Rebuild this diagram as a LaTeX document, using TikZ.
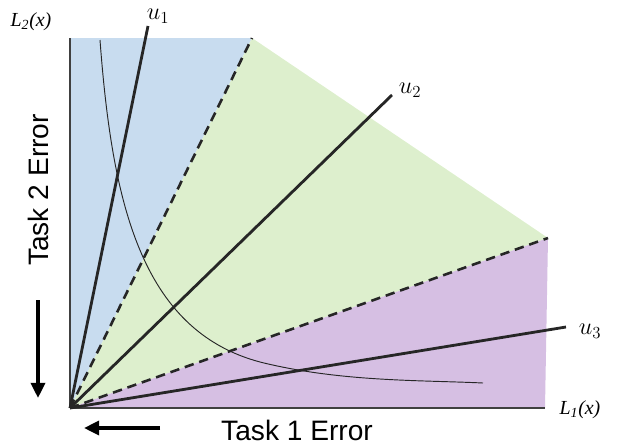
\documentclass[tikz,border=0pt]{standalone}
\usepackage{fontspec}
\newfontfamily\taskfont{Liberation Sans}
\newfontfamily\lfont{Liberation Serif}
\usetikzlibrary{arrows.meta}
\definecolor{blueregion}{HTML}{C8DCEF}
\definecolor{greenregion}{HTML}{DDEFCD}
\definecolor{purpleregion}{HTML}{D6BFE3}
\begin{document}
\begin{tikzpicture}
        [x=0.03cm, y=-0.03cm,
        region/.style={draw=none},
        boundary/.style={line width=2.2pt, dashed, dash pattern=on 8pt off 5pt, black!85},
        ray/.style={line width=2.4pt, black!85},
        axis/.style={line width=1.4pt, black!75},
        arrowline/.style={line width=3pt, -{Triangle[length=13pt,width=12pt]}},
        tasklabel/.style={font=\taskfont\fontsize{24}{24}\selectfont},
        losslabel/.style={font=\lfont\itshape\fontsize{17}{17}\selectfont},
        raylabel/.style={font=\fontsize{20}{20}\selectfont}]
        \useasboundingbox (0,0) rectangle (623,447);

        \coordinate (o) at (70,408);
        \coordinate (ytop) at (70,38);
        \coordinate (b1) at (252,38);
        \coordinate (b2) at (548,238);
        \coordinate (xend) at (545,408);

        % shaded regions
        \fill[region, fill=blueregion] (o) -- (ytop) -- (b1) -- cycle;
        \fill[region, fill=greenregion] (o) -- (b1) -- (b2) -- cycle;
        \fill[region, fill=purpleregion] (o) -- (b2) -- (xend) -- cycle;

        % axes
        \draw[axis] (o) -- (ytop);
        \draw[axis] (o) -- (xend);

        % dashed boundaries
        \draw[boundary] (o) -- (b1);
        \draw[boundary] (o) -- (b2);

        % preference rays
        \node[raylabel] (u1) at (158,16) {$u_1$};
        \node[raylabel] (u2) at (410,90) {$u_2$};
        \node[raylabel] (u3) at (590,331) {$u_3$};
        \coordinate (r1) at (148,26);
        \coordinate (r2) at (392,95);
        \coordinate (r3) at (566,327);
        \draw[ray] (o) -- (r1);
        \draw[ray] (o) -- (r2);
        \draw[ray] (o) -- (r3);

        % pareto front
        \draw[black!85, thick] (100,40) .. controls (112,200) and (140,330) .. (260,362)
                .. controls (340,382) and (420,380) .. (483,383);

        % labels
        \node[losslabel] (l2) at (31,22) {L\textsubscript{2}(x)};
        \node[losslabel] (l1) at (580,410) {L\textsubscript{1}(x)};
        \node[tasklabel, rotate=90] (t2) at (38,190) {Task 2 Error};
        \node[tasklabel] (t1) at (297,430) {Task 1 Error};
        \coordinate (a2s) at (38,300);
        \coordinate (a2e) at (38,398);
        \coordinate (a1s) at (160,428);
        \coordinate (a1e) at (84,428);
        \draw[arrowline] (a2s) -- (a2e);
        \draw[arrowline] (a1s) -- (a1e);
\end{tikzpicture}
\end{document}
